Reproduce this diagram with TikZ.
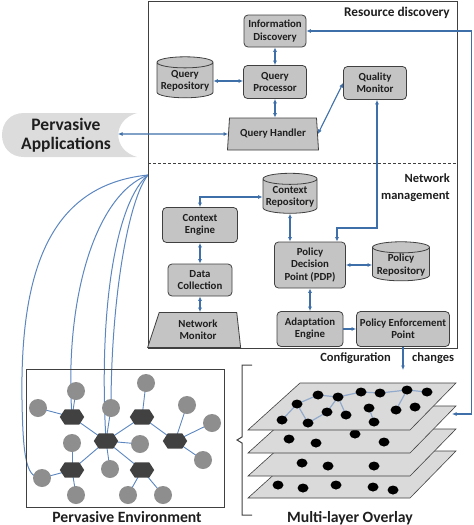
\documentclass[tikz,border=0pt]{standalone}
\usepackage{fontspec}
\setmainfont{Carlito}
\usetikzlibrary{shapes.geometric,arrows.meta,calc}
\pgfdeclarelayer{bg}
\pgfsetlayers{bg,main}
\definecolor{bordc}{HTML}{404040}
\definecolor{boxc}{HTML}{C4C4C4}
\definecolor{arr}{HTML}{3E6FA8}
\definecolor{envl}{HTML}{5B86C0}
\definecolor{hexc}{HTML}{414141}
\definecolor{circc}{HTML}{8E8E8E}
\definecolor{planec}{HTML}{DADADA}
\definecolor{ovl}{HTML}{92AACB}
\definecolor{pac}{HTML}{DCDCDC}
\definecolor{txt}{HTML}{1E1E1E}
\begin{document}
\begin{tikzpicture}[x=1pt,y=-1pt,
  nodefont/.style={font=\bfseries\fontsize{10.8}{12.2}\selectfont, text=txt},
  box/.style 2 args={rectangle, rounded corners=4pt, draw=bordc, fill=boxc, line width=0.8pt, align=center, inner sep=1pt, nodefont, minimum width=#1pt, minimum height=#2pt},
  cyl/.style 2 args={cylinder, shape border rotate=90, aspect=0.22, draw=bordc, fill=boxc, line width=0.8pt, align=center, inner sep=1pt, nodefont, minimum width=#1pt, minimum height=#2pt},
  trap/.style={trapezium, trapezium stretches body, draw=bordc, fill=boxc, line width=0.8pt, align=center, inner sep=1pt, nodefont},
  biarrow/.style={draw=arr, line width=1.1pt, {Latex[length=4.5pt,width=4pt]}-{Latex[length=4.5pt,width=4pt]}},
  onearrow/.style={draw=arr, line width=1.1pt, -{Latex[length=4.5pt,width=4pt]}},
  lab/.style={font=\bfseries\fontsize{12.5}{14}\selectfont, text=txt, inner sep=0pt},
  biglab/.style={font=\bfseries\fontsize{15.7}{17}\selectfont, text=txt, inner sep=0pt, align=center},
  envc/.style={circle, fill=circc, minimum size=18pt, inner sep=0pt},
  hexn/.style={rectangle, minimum width=24pt, minimum height=15pt, inner sep=0pt},
  envedge/.style={draw=envl, line width=0.9pt},
  curve/.style={draw=envl, line width=1pt},
  plane/.style={fill=planec, draw=bordc, line width=0.6pt},
  dot/.style={ellipse, fill=black, minimum width=11pt, minimum height=9pt, inner sep=0pt},
  ovedge/.style={draw=ovl, line width=1.2pt}
]
\useasboundingbox (0,0) rectangle (474,525);

% outer frame and separator
\draw[draw=bordc, line width=1pt] (148,1) rectangle (457,348);
\draw[draw=bordc, line width=0.8pt, dash pattern=on 3pt off 2pt] (148,163) -- (457,163);
\node[lab, anchor=east, font=\bfseries\fontsize{13.3}{15}\selectfont] (rd) at (450,13) {Resource discovery};
\node[lab, anchor=east] (nw) at (450,178) {Network};
\node[lab, anchor=east] (mg) at (450,197) {management};

% resource discovery nodes
\node[box={62}{32}] (id) at (275,31) {Information\\Discovery};
\node[box={63}{33}] (qp) at (275,82) {Query\\Processor};
\node[cyl={56}{41}] (qr) at (185,81) {Query\\Repository};
\node[box={63}{33}] (qm) at (375,83) {Quality\\Monitor};
\node[trap, trapezium left angle=80, trapezium right angle=80, minimum width=91pt, minimum height=32pt] (qh) at (273,134) {Query Handler};

% network management nodes
\node[cyl={54}{40}] (cr) at (290,197) {Context\\Repository};
\node[box={75}{35}] (ce) at (200,225) {Context\\Engine};
\node[box={64}{32}] (dc) at (200,280) {Data\\Collection};
\node[trap, trapezium left angle=62, trapezium right angle=80, minimum width=93pt, minimum height=35pt] (nm) at (198,330) {Network\\Monitor};
\node[box={71}{46}] (pdp) at (310,265) {Policy\\Decision\\Point (PDP)};
\node[cyl={57}{39}] (pr) at (401,265) {Policy\\Repository};
\node[box={66}{35}] (ae) at (310,329) {Adaptation\\Engine};
\node[box={93}{35}] (pep) at (403,329) {Policy Enforcement\\Point};

% pervasive applications
\fill[pac] (137,113) -- (24,113) .. controls (10,113) and (2,123) .. (2,135)
  .. controls (2,147) and (10,157) .. (24,157) -- (137,157)
  .. controls (112,150) and (112,120) .. (137,113) -- cycle;
\node[biglab, font=\bfseries\fontsize{17.5}{18.5}\selectfont] (pa) at (66,135) {Pervasive\\Applications};
\coordinate (paR) at (118,134);

% connectors
\draw[biarrow] (id.south) -- (qp.north);
\draw[biarrow] (qr.east) -- (qr.east -| qp.west);
\draw[biarrow] (qp.south) -- (qp.south |- qh.north);
\draw[biarrow] (qh.east) -- (qm.west);
\draw[biarrow] (paR) -- (qh.west);
\coordinate (bend1) at (337,228);
\draw[biarrow] ([xshift=2pt]qm.south) |- (bend1) -- (bend1 |- pdp.north);
\draw[biarrow] (ce.north) |- (cr.west);
\draw[biarrow] (cr.south) -- (cr.south |- pdp.north);
\draw[biarrow] (ce.south) -- (dc.north);
\draw[biarrow] (dc.south) -- (dc.south |- nm.north);
\draw[biarrow] (pdp.east) -- (pdp.east -| pr.west);
\draw[biarrow] (pdp.south) -- (ae.north);
\draw[onearrow] (ae.east) -- (ae.east -| pep.west);
\coordinate (ovtop) at (403,370);
\draw[onearrow] (pep.south) -- (ovtop);
\node[lab, anchor=east] (conf) at (391,358) {Configuration};
\node[lab, anchor=west] (chg) at (412,358) {changes};
\coordinate (layerR) at (452,414);
\draw[biarrow] (id.east) -- ++(165,0) |- (layerR);

% pervasive environment
\draw[draw=bordc, line width=0.8pt] (26,369) rectangle (224,507);
\node[biglab] (pel) at (127,517) {Pervasive Environment};
\foreach \n/\x/\y in {c1/38/408, c2/76/391, c3/111/408, c4/146/383, c5/187/405, c6/212/423, c7/72/443, c8/140/444, c9/203/460, c10/110/469, c11/42/478, c12/76/495, c13/128/495, c14/163/495}
  \node[envc] (\n) at (\x,\y) {};
\foreach \n/\x/\y in {h1/72/417, h2/106/441, h3/142/417, h4/175/441, h5/72/470, h6/142/470}
  \node[hexn] (\n) at (\x,\y) {};
\begin{pgfonlayer}{bg}
\foreach \a/\b in {c1/h1, c2/h1, h1/h2, c3/h2, h2/h3, c4/h3, h3/h4, c5/h4, c6/h4, c9/h4, h2/c8, h2/c10, h2/h5, c7/h5, h5/c11, h5/c12, h2/h6, h6/c13, h6/c14}
  \draw[envedge] (\a.center) -- (\b.center);
\coordinate (fan) at (148,175);
\draw[curve] (fan) .. controls (50,185) and (20,270) .. (22,400) .. controls (23,462) and (27,478) .. (c11.center);
\draw[curve] (fan) .. controls (95,195) and (64,300) .. (h1.center);
\draw[curve] (fan) .. controls (118,200) and (98,300) .. (h2.center);
\draw[curve] (fan) .. controls (128,200) and (111,300) .. (c3.center);
\end{pgfonlayer}
\foreach \n in {h1,h2,h3,h4,h5,h6}
  \fill[hexc] (\n.west) -- ([xshift=5pt]\n.north west) -- ([xshift=-5pt]\n.north east) -- (\n.east) -- ([xshift=-5pt]\n.south east) -- ([xshift=5pt]\n.south west) -- cycle;

% brace
\draw[draw=bordc, line width=1pt] (252,365) -- (242,365) -- (242,437) -- (237,440) -- (242,443) -- (242,515) -- (252,515);

% multi-layer overlay
\draw[plane] (248,498) -- (410,498) -- (456,451) -- (300,451) -- cycle;
\foreach \x/\y in {278/485, 303/488, 336/485, 373/487, 393/490} \node[dot] at (\x,\y) {};
\draw[plane] (248,476) -- (410,476) -- (456,429) -- (300,429) -- cycle;
\foreach \x/\y in {302/463, 328/466, 374/466} \node[dot] at (\x,\y) {};
\draw[plane] (248,453) -- (410,453) -- (456,406) -- (300,406) -- cycle;
\foreach \x/\y in {289/439, 316/443, 355/434, 384/442} \node[dot] at (\x,\y) {};
\draw[plane] (248,430) -- (410,430) -- (456,383) -- (300,383) -- cycle;
\foreach \n/\x/\y in {a/282/420, b/297/404, c/308/423, d/318/395, e/327/412, f/338/397, g/346/415, h/361/392, i/369/408, j/374/422, k/380/393, l/396/410, m/407/390, n/415/407, o/427/392}
  \coordinate (t\n) at (\x,\y);
\foreach \a/\b in {a/b, b/d, b/c, c/e, e/f, d/f, f/g, f/h, h/k, k/m, m/o, m/l, i/j}
  \draw[ovedge] (t\a) -- (t\b);
\foreach \n in {a,b,c,d,e,f,g,h,i,j,k,l,m,n,o}
  \node[dot] at (t\n) {};
\node[biglab] (mlo) at (350,518) {Multi-layer Overlay};
\end{tikzpicture}
\end{document}
